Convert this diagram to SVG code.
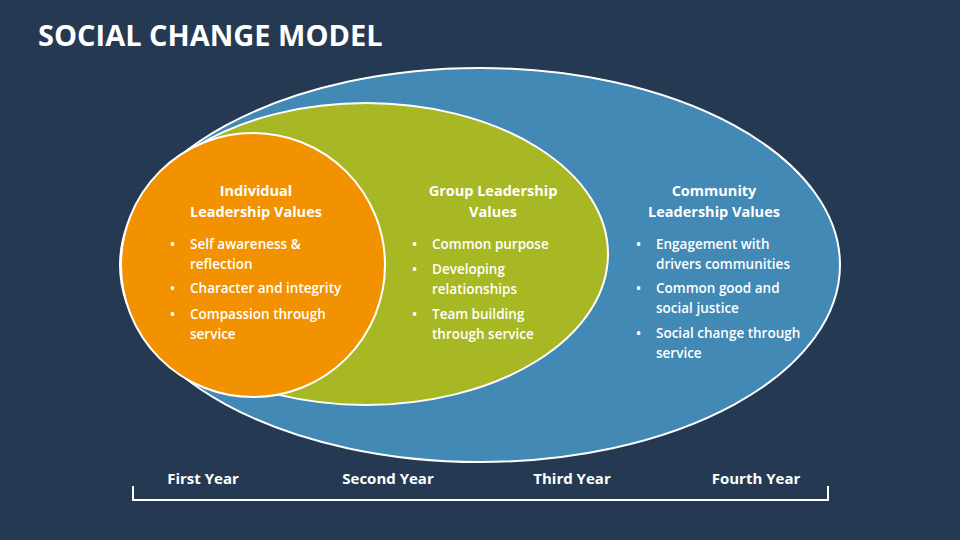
<svg xmlns="http://www.w3.org/2000/svg" width="960" height="540" viewBox="0 0 960 540">
<style>
text{font-family:"Open Sans","Liberation Sans",sans-serif;fill:#fff}
.h{font-weight:bold;font-size:14.5px;text-anchor:middle}
.b{font-size:13.5px;font-weight:600}
.y{font-weight:bold;font-size:15px;text-anchor:middle}
.e{stroke:#fff;stroke-width:2}
</style>
<rect width="960" height="540" fill="#253a52"/>
<text x="38" y="46" style="font-size:29px;font-weight:bold">SOCIAL CHANGE MODEL</text>
<g id="community">
<ellipse class="e" cx="480" cy="265" rx="360" ry="197" fill="#4289b5"/>
<text class="h" x="714" y="196">Community</text>
<text class="h" x="714" y="217">Leadership Values</text>
<g class="b">
<text x="636" y="249">•</text><text x="656" y="249">Engagement with</text><text x="656" y="269">drivers communities</text>
<text x="636" y="293">•</text><text x="656" y="293">Common good and</text><text x="656" y="313">social justice</text>
<text x="636" y="338">•</text><text x="656" y="338">Social change through</text><text x="656" y="358">service</text>
</g></g>
<g id="group">
<ellipse class="e" cx="366" cy="254" rx="242" ry="151" fill="#a8b824"/>
<text class="h" x="493" y="196">Group Leadership</text>
<text class="h" x="493" y="217">Values</text>
<g class="b">
<text x="412" y="249">•</text><text x="432" y="249">Common purpose</text>
<text x="412" y="274">•</text><text x="432" y="274">Developing</text><text x="432" y="294">relationships</text>
<text x="412" y="319">•</text><text x="432" y="319">Team building</text><text x="432" y="339">through service</text>
</g></g>
<g id="individual">
<circle class="e" cx="253" cy="265" r="132" fill="#f39200"/>
<text class="h" x="256" y="196">Individual</text>
<text class="h" x="256" y="217">Leadership Values</text>
<g class="b">
<text x="170" y="249">•</text><text x="190" y="249">Self awareness &amp;</text><text x="190" y="269">reflection</text>
<text x="170" y="293">•</text><text x="190" y="293">Character and integrity</text>
<text x="170" y="319">•</text><text x="190" y="319">Compassion through</text><text x="190" y="339">service</text>
</g></g>
<g id="timeline">
<path d="M133 486V500H828V486" fill="none" stroke="#fff" stroke-width="2"/>
<text class="y" x="203" y="484">First Year</text>
<text class="y" x="388" y="484">Second Year</text>
<text class="y" x="572" y="484">Third Year</text>
<text class="y" x="756" y="484">Fourth Year</text>
</g>
</svg>
